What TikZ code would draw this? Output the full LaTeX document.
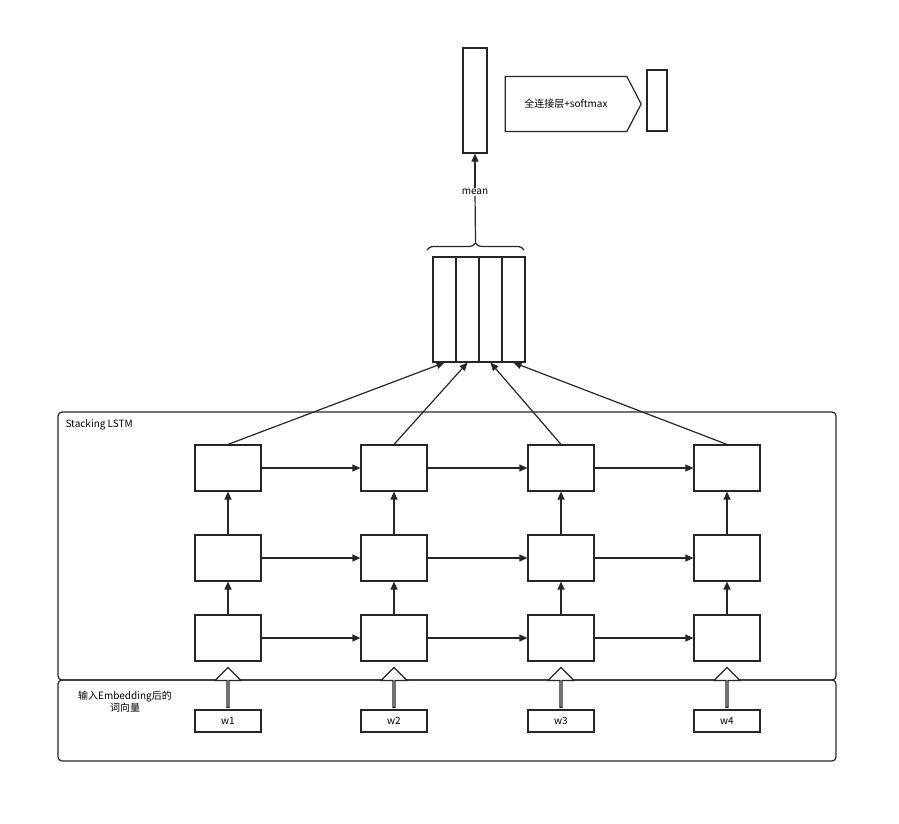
\documentclass[tikz,border=0pt]{standalone}
\usepackage{fontspec}
\setmainfont{Noto Sans CJK SC}
\usetikzlibrary{arrows.meta,shapes.arrows,decorations.pathreplacing}
\begin{document}
\begin{tikzpicture}[x=1pt,y=-1pt,
  ln/.style={draw=black!85,line width=1.2pt},
  cell/.style={ln,minimum width=66pt,minimum height=46pt,inner sep=0pt},
  wbox/.style={ln,minimum width=66pt,minimum height=22pt,inner sep=0pt,font=\fontsize{10}{12}\selectfont},
  arr/.style={draw=black!85,line width=1.2pt,-{Triangle[length=8pt,width=7pt]}},
  hollow/.style={ln,fill=white,single arrow,shape border rotate=90,minimum height=40pt,minimum width=26pt,single arrow head extend=7pt,inner sep=0pt,single arrow head indent=0pt},
  lab/.style={font=\fontsize{10}{12}\selectfont}]
\useasboundingbox (0,0) rectangle (899,823);
% outer boxes
\draw[ln,rounded corners=4pt] (58,412) rectangle (836,680);
\draw[ln,rounded corners=4pt] (58,680) rectangle (836,761);
\node[lab,anchor=west] (stl) at (62,425) {Stacking LSTM};
\node[lab,align=center] (emb) at (125,702) {输入Embedding后的\\词向量};
% grid
\foreach \c/\x in {1/228,2/394,3/561,4/727}{
  \node[cell] (a\c) at (\x,468) {};
  \node[cell] (b\c) at (\x,558) {};
  \node[cell] (c\c) at (\x,638) {};
  \node[wbox] (w\c) at (\x,721) {w\c};
  \node[hollow] (h\c) at (\x,688) {};
  \draw[arr] (c\c) -- (b\c);
  \draw[arr] (b\c) -- (a\c);
}
\foreach \r in {a,b,c}{
  \draw[arr] (\r1) -- (\r2);
  \draw[arr] (\r2) -- (\r3);
  \draw[arr] (\r3) -- (\r4);
}
% stacked cells
\foreach \i/\x in {1/444.5,2/467.5,3/490.5,4/513.5}{
  \node[ln,minimum width=23pt,minimum height=105pt,inner sep=0pt] (s\i) at (\x,309.5) {};
}
\draw[arr] (a1.north) -- (s1.south);
\draw[arr] (a2.north) -- (s2.south);
\draw[arr] (a3.north) -- (s3.south);
\draw[arr] (a4.north) -- (s4.south);
% brace
\draw[ln,decorate,decoration={brace,amplitude=7pt}] (427,250) -- (524,250);
\coordinate (bt) at (475.5,242);
\node[ln,minimum width=24pt,minimum height=105pt,inner sep=0pt] (top) at (475,100.5) {};
\node[lab,fill=white,inner sep=1pt] (mean) at (475,192) {mean};
\draw[ln] (bt) -- (mean);
\draw[arr] (mean) -- (top);
% big arrow
\node[ln,fill=white,single arrow,minimum height=136pt,minimum width=55pt,single arrow head extend=0pt,inner sep=0pt,single arrow head indent=0pt,single arrow tip angle=125] (big) at (566,104) {};
\node[lab] (bl) at (566,104) {全连接层+softmax};
\node[ln,minimum width=20pt,minimum height=61pt,inner sep=0pt] (out) at (657,100.5) {};
\end{tikzpicture}
\end{document}
